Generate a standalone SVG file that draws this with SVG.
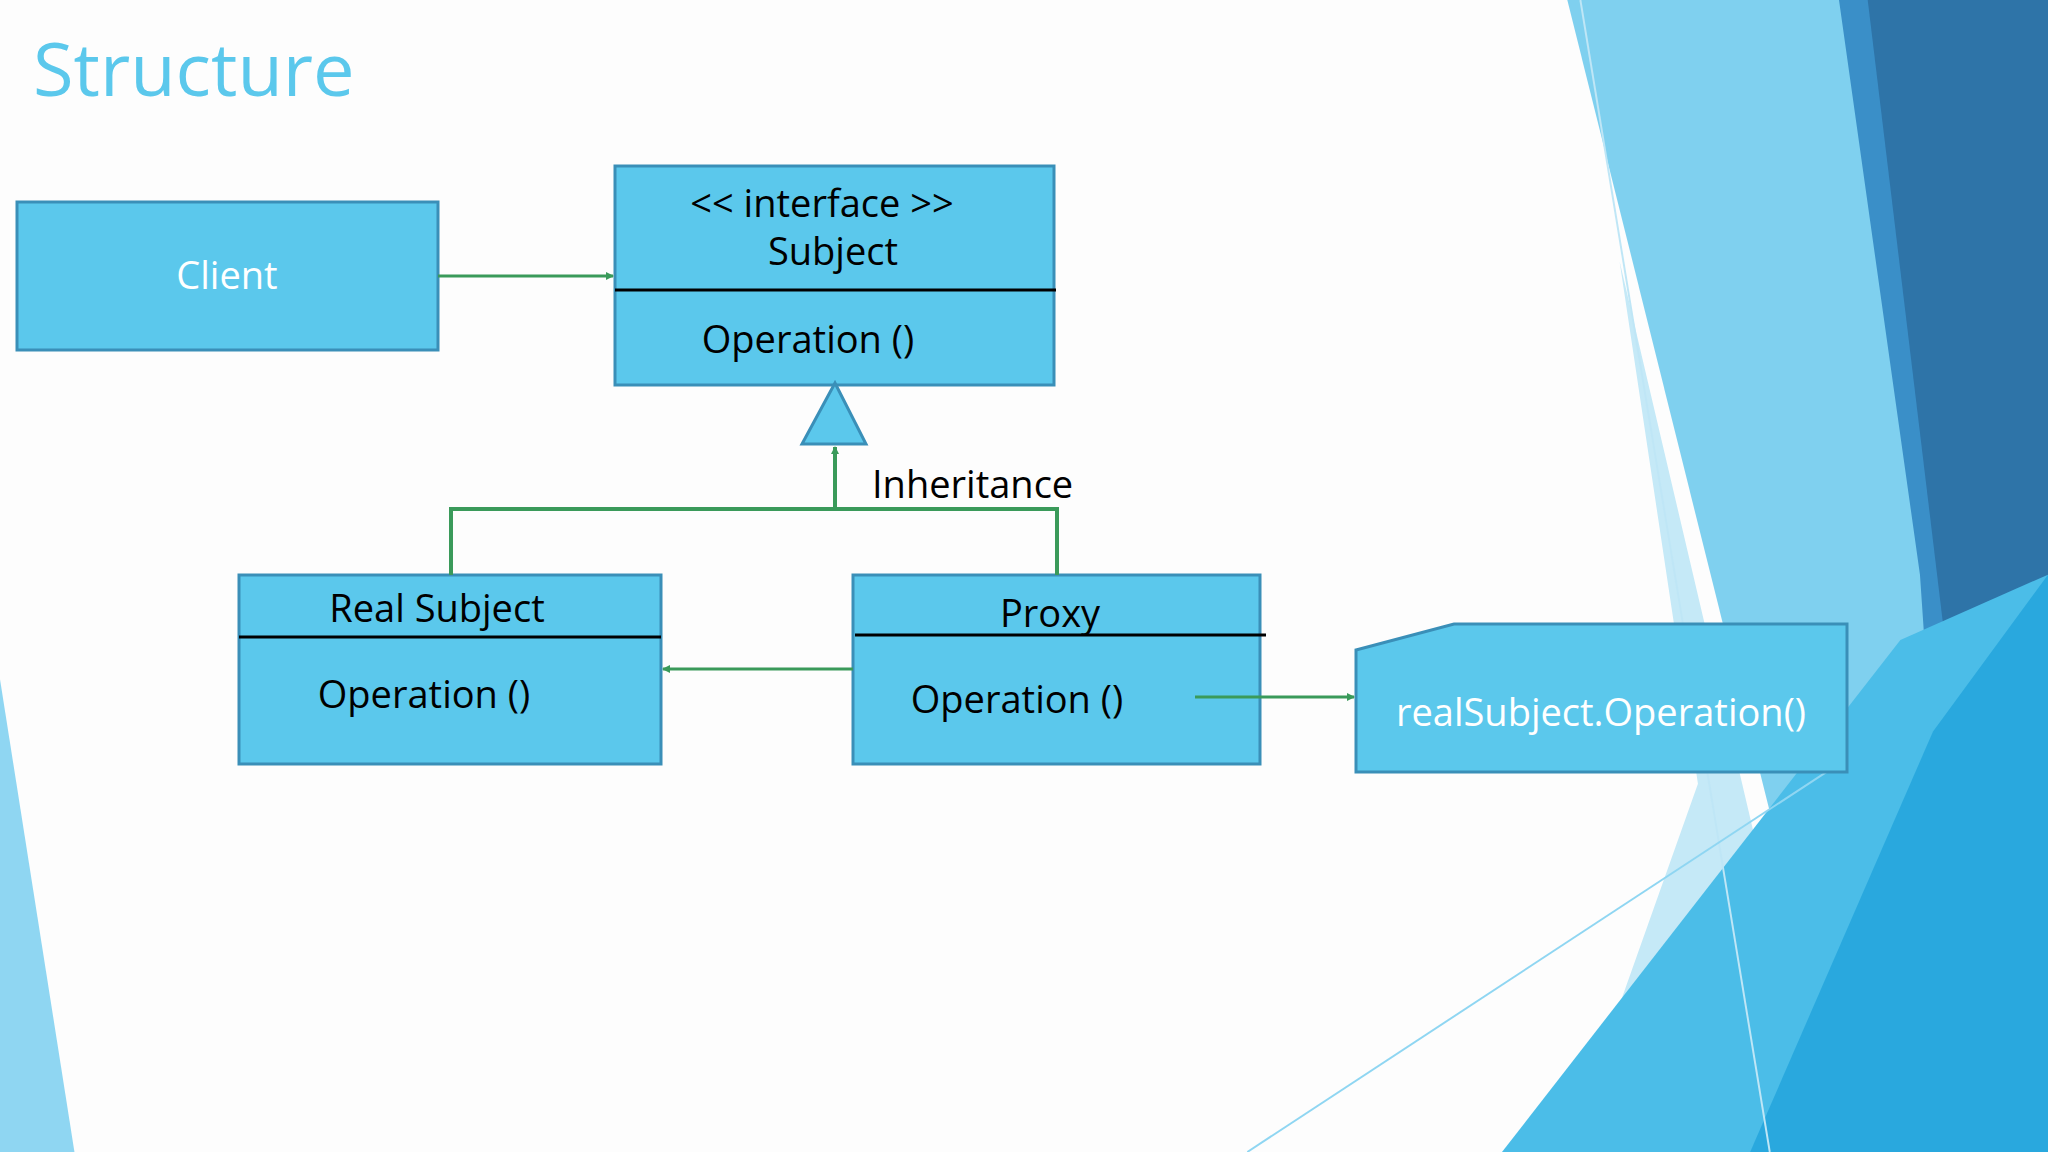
<svg xmlns="http://www.w3.org/2000/svg" width="2048" height="1152" viewBox="0 0 2048 1152">
<defs>
<marker id="ah" markerWidth="8" markerHeight="8" refX="7" refY="4" orient="auto" markerUnits="userSpaceOnUse"><path d="M0,0 L8,4 L0,8 z" fill="#3a9a5a"/></marker>
<style>
.box{fill:#5bc8ec;stroke:#3a8fb8;stroke-width:3}
.div{stroke:#000;stroke-width:3}
.t{font-family:"Open Sans","Noto Sans",sans-serif;font-size:38px;fill:#000;text-anchor:middle}
.w{fill:#fff}
.c{stroke:#3a9a5a;stroke-width:3;fill:none}
.c4{stroke:#3a9a5a;stroke-width:4;fill:none}
</style>
</defs>
<rect width="2048" height="1152" fill="#fdfdfd"/>
<g id="background" transform="scale(1.3061)">
<polygon points="1200,0 1420,0 1568,620 1568,882 1420,882" fill="#7fd0ef"/>
<polygon points="1240,200 1400,882 1200,882 1300,600" fill="#c5e9f7"/>
<polygon points="1408,0 1568,0 1568,882 1500,882 1470,440" fill="#3a8fc8"/>
<polygon points="1430,0 1568,0 1568,460 1500,580" fill="#2e74a8"/>
<polygon points="1150,882 1455,490 1568,440 1568,882" fill="#4bbde8"/>
<polygon points="1340,882 1480,560 1568,440 1568,882" fill="#29a8de"/>
<polygon points="0,520 0,882 57,882" fill="#8fd6f2"/>
<line x1="1210" y1="0" x2="1355" y2="882" stroke="#bfe6f6" stroke-width="1.5"/>
<line x1="955" y1="882" x2="1400" y2="590" stroke="#8fd6f2" stroke-width="1.5"/>
</g>
<text x="33" y="96" font-family="Open Sans,Noto Sans,sans-serif" font-size="74" fill="#5bc8ec">Structure</text>
<g id="client"><rect class="box" x="17" y="202" width="421" height="148"/><text class="t w" x="227" y="289">Client</text></g>
<g id="subject"><rect class="box" x="615" y="166" width="439" height="219"/><line class="div" x1="615" y1="290" x2="1056" y2="290"/>
<text class="t" x="822" y="217" font-size="34">&lt;&lt; interface &gt;&gt;</text><text class="t" x="833" y="265">Subject</text><text class="t" x="808" y="353">Operation ()</text></g>
<g id="triangle"><polygon points="835,383 802,444 866,444" fill="#5bc8ec" stroke="#3a8fb8" stroke-width="3"/></g>
<g id="realsubject"><rect class="box" x="239" y="575" width="422" height="189"/><line class="div" x1="239" y1="637" x2="661" y2="637"/>
<text class="t" x="437" y="622">Real Subject</text><text class="t" x="424" y="708">Operation ()</text></g>
<g id="proxy"><rect class="box" x="853" y="575" width="407" height="189"/><line class="div" x1="855" y1="635" x2="1266" y2="635"/>
<text class="t" x="1050" y="627">Proxy</text><text class="t" x="1017" y="713">Operation ()</text></g>
<g id="note"><polygon class="box" points="1356,650 1454,624 1847,624 1847,772 1356,772"/><text class="t w" x="1601" y="726">realSubject.Operation()</text></g>
<g id="connectors">
<line class="c" x1="438" y1="276" x2="613" y2="276" marker-end="url(#ah)"/>
<polyline class="c4" points="451,575 451,509 1057,509 1057,575"/>
<line class="c4" x1="835" y1="509" x2="835" y2="447" marker-end="url(#ah)"/>
<line class="c" x1="853" y1="669" x2="663" y2="669" marker-end="url(#ah)"/>
<line class="c" x1="1195" y1="697" x2="1354" y2="697" marker-end="url(#ah)"/>
<text x="872" y="498" class="t" style="text-anchor:start">Inheritance</text>
</g>
</svg>
